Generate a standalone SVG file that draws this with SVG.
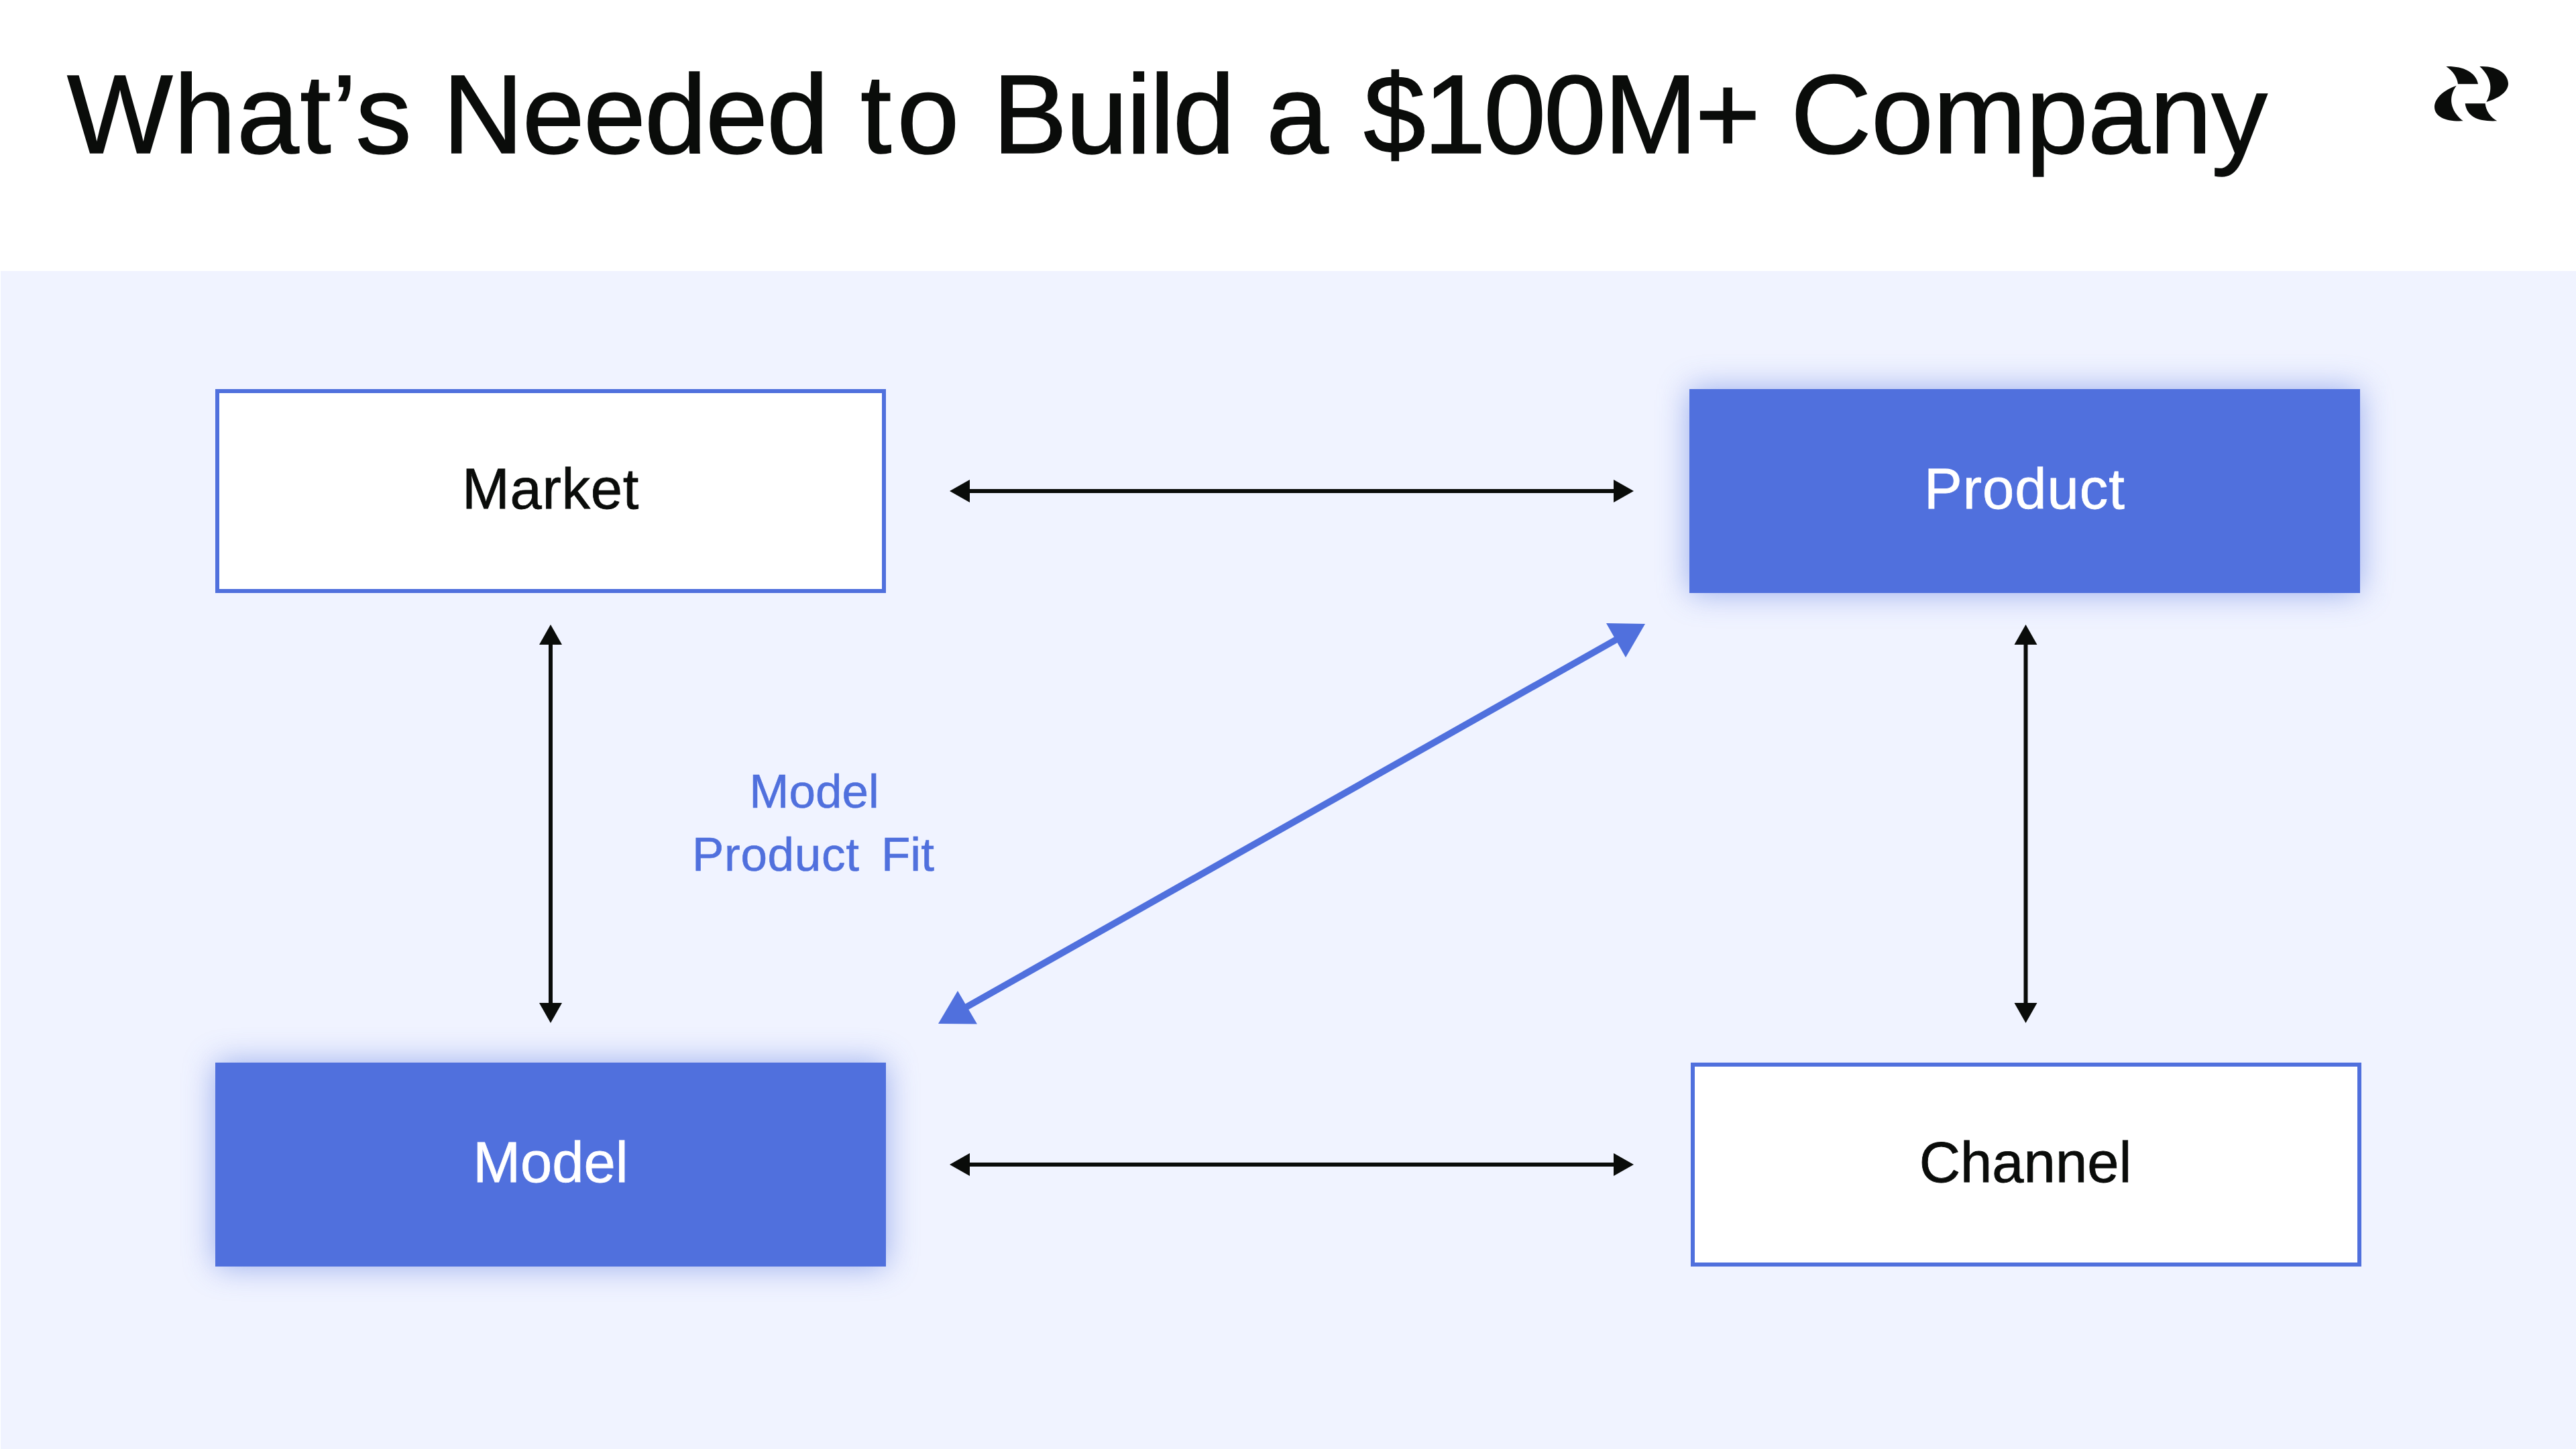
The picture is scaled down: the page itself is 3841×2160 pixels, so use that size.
<svg xmlns="http://www.w3.org/2000/svg" width="3841" height="2160" viewBox="0 0 3841 2160">
<style>
text{font-family:"Liberation Sans",Arial,sans-serif}
.title{font-size:167px;fill:#0a0c0a;stroke:#0a0c0a;stroke-width:1.5}
.lab{font-size:85px;text-anchor:middle;stroke-width:.8}
.dark{fill:#0a0c0a;stroke:#0a0c0a}.light{fill:#fff;stroke:#fff}
.note{font-size:71px;fill:#5070dd;stroke:#5070dd;stroke-width:.6}
.solid{fill:#5070dd}
.outline{fill:#fff;stroke:#5070dd;stroke-width:6}
.conn{stroke:#0a0c0a;stroke-width:6;fill:none;marker-start:url(#head);marker-end:url(#head)}
</style>
<defs>
<marker id="head" markerUnits="userSpaceOnUse" markerWidth="31" markerHeight="36" refX="1" refY="18" orient="auto-start-reverse" viewBox="0 0 31 36"><path d="M0 1L30 18L0 35Z" fill="#0a0c0a"/></marker>
<filter id="glow" x="-15%" y="-40%" width="130%" height="180%"><feGaussianBlur stdDeviation="24"/></filter>
</defs>
<rect width="3841" height="2160" fill="#fff"/>
<rect id="panel" x="1" y="404" width="3840" height="1756" fill="#f0f3ff"/>
<text class="title" y="228"><tspan x="100" letter-spacing="1.3">What’s </tspan><tspan x="660" letter-spacing="-1.8">Needed </tspan><tspan x="1283" letter-spacing="8">to </tspan><tspan x="1480" letter-spacing="-2.4">Build </tspan><tspan x="1888" letter-spacing="-.5">a </tspan><tspan x="2033" letter-spacing="-3.2">$100M+ </tspan><tspan x="2670" letter-spacing="-.6">Company</tspan></text>
<g id="logo" transform="translate(3560 60) scale(.33333)" fill="#0a0c0a">
<path d="M262 117C335 115 395 140 405 196H315C312 165 290 135 262 117Z"/>
<path d="M412 117C490 113 540 150 540 195C538 235 490 262 442 276C470 225 470 170 412 117Z"/>
<path d="M308 203C270 255 280 315 338 361C265 365 210 345 210 297C212 255 255 222 308 203Z"/>
<path d="M347 283H437C440 315 460 345 490 361C410 365 355 345 347 283Z"/>
</g>
<g id="connectors">
<line class="conn" x1="1445" y1="732" x2="2407" y2="732"/>
<line class="conn" x1="1445" y1="1736" x2="2407" y2="1736"/>
<line class="conn" x1="821" y1="960" x2="821" y2="1496"/>
<line class="conn" x1="3020.5" y1="960" x2="3020.5" y2="1496"/>
<g id="fit-arrow" class="solid">
<line x1="1436" y1="1504" x2="2416" y2="950" stroke="#5070dd" stroke-width="10"/>
<polygon points="1399,1526 1457,1526.6 1428,1477"/>
<polygon points="2395,929 2453,930 2424,980"/>
</g>
</g>
<g id="market"><rect class="outline" x="324" y="583" width="994" height="298"/><text class="lab dark" x="821" y="758" letter-spacing=".7">Market</text></g>
<g id="product"><rect class="solid" x="2519" y="580" width="1000" height="304" filter="url(#glow)" opacity=".55"/><rect class="solid" x="2519" y="580" width="1000" height="304"/><text class="lab light" x="3019" y="758" letter-spacing="1">Product</text></g>
<g id="model"><rect class="solid" x="321" y="1584" width="1000" height="304" filter="url(#glow)" opacity=".55"/><rect class="solid" x="321" y="1584" width="1000" height="304"/><text class="lab light" x="821" y="1762">Model</text></g>
<g id="channel"><rect class="outline" x="2524" y="1587" width="994" height="298"/><text class="lab dark" x="3020" y="1762">Channel</text></g>
<g id="model-product-fit"><text class="note" x="1214" y="1204" text-anchor="middle">Model</text><text class="note" y="1298"><tspan x="1032" letter-spacing=".7">Product </tspan><tspan x="1314">Fit</tspan></text></g>
</svg>
